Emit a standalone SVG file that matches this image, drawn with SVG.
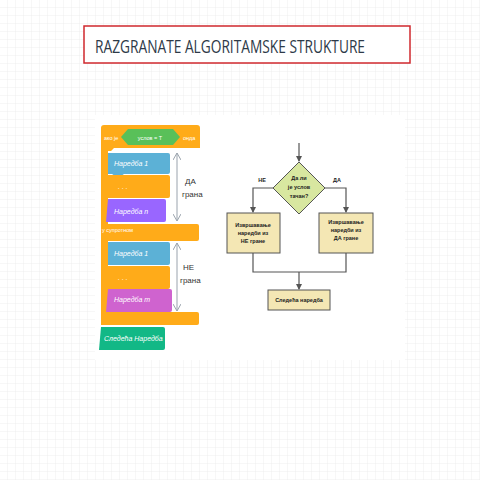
<svg xmlns="http://www.w3.org/2000/svg" width="480" height="480" viewBox="0 0 480 480">
<defs>
<pattern id="grid" width="8" height="8" patternUnits="userSpaceOnUse">
<path d="M8 0V8M0 8H8" fill="none" stroke="#eeeeee" stroke-width="1"/>
</pattern>
<marker id="ah" markerWidth="6" markerHeight="6" refX="5" refY="3" orient="auto" markerUnits="userSpaceOnUse">
<path d="M0 0L6 3L0 6Z" fill="#555"/>
</marker>
<marker id="dh" markerWidth="8" markerHeight="8" refX="7" refY="4" orient="auto-start-reverse" markerUnits="userSpaceOnUse">
<path d="M0 0L7 4L0 8" fill="none" stroke="#9aa3ad" stroke-width="1"/>
</marker>
</defs>
<style>
.bt{font-family:"Liberation Sans",Arial,sans-serif;font-size:7px;fill:#fff;font-style:italic}
.hd{font-family:"Liberation Sans",Arial,sans-serif;font-size:5.5px;fill:#fff}
.lb{font-family:"Liberation Sans",Arial,sans-serif;font-size:8px;fill:#333}
.fc{font-family:"Liberation Sans",Arial,sans-serif;font-size:5.5px;fill:#222;font-weight:bold;text-anchor:middle}
.box{fill:#f4e7b4;stroke:#555;stroke-width:1}
.ln{fill:none;stroke:#555;stroke-width:1.2}
.or{fill:#ffab19}
</style>
<rect width="480" height="480" fill="#fff"/>
<rect width="480" height="480" fill="url(#grid)"/>
<rect x="95" y="115" width="310" height="245" fill="#fff"/>

<g id="title">
<rect x="84" y="26" width="326" height="37" fill="#fff" stroke="#d0282e" stroke-width="1.5"/>
<text x="95" y="53" font-family="'Open Sans','Liberation Sans',sans-serif" font-size="18" fill="#2e3a48" textLength="270" lengthAdjust="spacingAndGlyphs">RAZGRANATE ALGORITAMSKE STRUKTURE</text>
</g>

<g id="scratch">
<g id="if-block">
<path class="or" d="M101 128q0-3 3-3h93q3 0 3 3v20h-86l-3 3h-6l-3-3h-1z"/>
<rect class="or" x="101" y="146" width="7" height="80"/>
<text class="hd" x="104" y="140">ако је</text>
<path d="M128 129h45l7 8l-7 8h-45l-7-8z" fill="#59c059"/>
<text class="hd" x="150" y="140" text-anchor="middle" font-size="6.5">услов = T</text>
<text class="hd" x="183" y="140">онда</text>
</g>
<g id="b1"><path d="M108 153h60q2 0 2 2v17q0 2-2 2h-44l-3 2h-6l-3-2h-4z" fill="#5cb1d6"/><text class="bt" x="114" y="166">Наредба 1</text></g>
<g id="b2"><path class="or" d="M108 175h60q2 0 2 2v19q0 2-2 2h-60z"/><text class="bt" x="118" y="189">. . .</text></g>
<g id="b3"><path d="M108 199h56q2 0 2 2v19q0 2-2 2h-58z" fill="#9966ff"/><text class="bt" x="114" y="214">Наредба n</text></g>
<g id="else-block">
<path class="or" d="M101 224h96q2 0 2 2v13q0 2-2 2h-89z"/>
<rect class="or" x="101" y="224" width="7" height="92"/>
<text class="hd" x="102" y="232">у супротном</text>
</g>
<g id="b4"><path d="M108 242h60q2 0 2 2v19q0 2-2 2h-60z" fill="#5cb1d6"/><text class="bt" x="114" y="256">Наредба 1</text></g>
<g id="b5"><path class="or" d="M108 266h60q2 0 2 2v19q0 2-2 2h-60z"/><text class="bt" x="118" y="280">. . .</text></g>
<g id="b6"><path d="M108 289h62q2 0 2 2v19q0 2-2 2h-64z" fill="#cf63cf"/><text class="bt" x="114" y="302">Наредба m</text></g>
<g id="end-block"><path class="or" d="M101 312h96q2 0 2 2v9q0 2-2 2h-96z"/></g>
<g id="next"><path d="M101 327h62q2 0 2 2v19q0 2-2 2h-64z" fill="#12b886"/><text class="bt" x="104" y="341">Следећа Наредба</text></g>
<g id="ranges">
<line x1="177" y1="153" x2="177" y2="221" stroke="#9aa3ad" marker-start="url(#dh)" marker-end="url(#dh)"/>
<text class="lb" x="185" y="184">ДА</text><text class="lb" x="182" y="197">грана</text>
<line x1="177" y1="243" x2="177" y2="311" stroke="#9aa3ad" marker-start="url(#dh)" marker-end="url(#dh)"/>
<text class="lb" x="183" y="270">НЕ</text><text class="lb" x="180" y="283">грана</text>
</g>
</g>

<g id="connectors">
<line class="ln" x1="299" y1="143" x2="299" y2="161" marker-end="url(#ah)"/>
<polyline class="ln" points="273,188 253,188 253,212" marker-end="url(#ah)"/>
<polyline class="ln" points="325,188 346,188 346,212" marker-end="url(#ah)"/>
<polyline class="ln" points="253,253 253,272 346,272 346,253"/>
<line class="ln" x1="299" y1="272" x2="299" y2="289" marker-end="url(#ah)"/>
</g>
<g id="decision">
<path d="M299 162L325 188L299 214L273 188Z" fill="#d8e7a0" stroke="#555"/>
<text class="fc" x="299" y="180">Да ли</text>
<text class="fc" x="299" y="189">је услов</text>
<text class="fc" x="299" y="198">тачан?</text>
</g>
<text class="fc" x="262" y="182" font-size="6.5">НЕ</text>
<text class="fc" x="337" y="182" font-size="6.5">ДА</text>
<g id="no-box">
<rect class="box" x="227" y="213" width="53" height="40"/>
<text class="fc" x="253" y="227">Извршавање</text>
<text class="fc" x="253" y="235">наредби из</text>
<text class="fc" x="253" y="243">НЕ гране</text>
</g>
<g id="yes-box">
<rect class="box" x="319" y="213" width="54" height="40"/>
<text class="fc" x="346" y="224">Извршавање</text>
<text class="fc" x="346" y="232">наредби из</text>
<text class="fc" x="346" y="240">ДА гране</text>
</g>
<g id="next-box">
<rect class="box" x="268" y="290" width="62" height="20"/>
<text class="fc" x="299" y="302">Следећа наредба</text>
</g>
</svg>
